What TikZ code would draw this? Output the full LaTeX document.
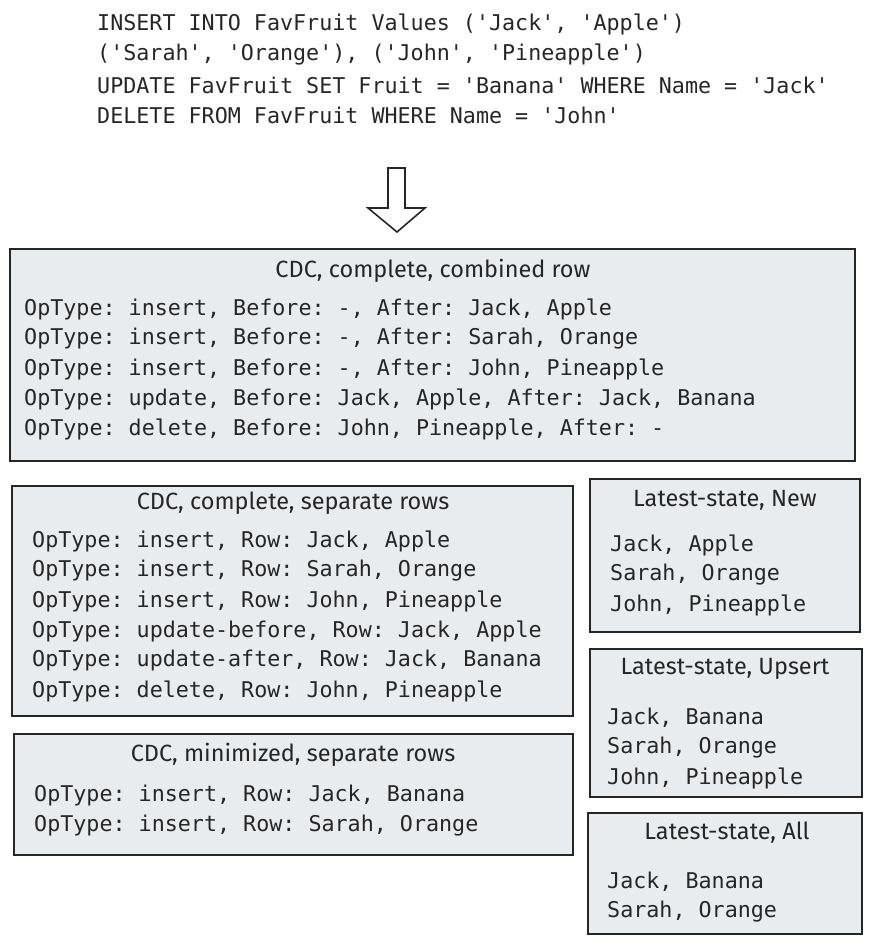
\documentclass[tikz,border=0pt]{standalone}
\usepackage{fontspec}
\setmonofont{DejaVu Sans Mono}
\newfontfamily\hand{Fira Sans}
\definecolor{boxfill}{HTML}{E9ECEF}
\begin{document}
\begin{tikzpicture}[x=1pt,y=-1pt,
  boxst/.style={draw=black!85,line width=2.4pt,fill=boxfill},
  code/.style={anchor=west,inner sep=0pt,font=\fontsize{21.7}{21.7}\ttfamily,text=black!85},
  head/.style={inner sep=0pt,font=\fontsize{23.5}{23.5}\hand,text=black!85}]
\useasboundingbox (0,0) rectangle (875,944);
\node[code] (t1) at (97,24) {INSERT INTO FavFruit Values ('Jack', 'Apple')};
\node[code] (t2) at (97,55) {('Sarah', 'Orange'), ('John', 'Pineapple')};
\node[code] (t4) at (97,85) {UPDATE FavFruit SET Fruit = 'Banana' WHERE Name = 'Jack'};
\node[code] (t5) at (97,115) {DELETE FROM FavFruit WHERE Name = 'John'};
\draw[line width=1.6pt,black!85,fill=white] (388,168) -- (405,168) -- (405,208) -- (425,208) -- (397,232) -- (368,208) -- (388,208) -- cycle;
% boxes
\draw[boxst] (10,249) rectangle (855,461);
\draw[boxst] (12,486) rectangle (573,716);
\draw[boxst] (590,479) rectangle (860,632);
\draw[boxst] (590,649) rectangle (862,797);
\draw[boxst] (14,734) rectangle (573,855);
\draw[boxst] (588,813) rectangle (862,934);
% box1
\node[head] (h1) at (433,271) {CDC, complete, combined row};
\node[code] (a1) at (24,309) {OpType: insert, Before: -, After: Jack, Apple};
\node[code] (a2) at (24,339) {OpType: insert, Before: -, After: Sarah, Orange};
\node[code] (a3) at (24,369) {OpType: insert, Before: -, After: John, Pineapple};
\node[code] (a4) at (24,399) {OpType: update, Before: Jack, Apple, After: Jack, Banana};
\node[code] (a5) at (24,429) {OpType: delete, Before: John, Pineapple, After: -};
% box2
\node[head] (h2) at (293,503) {CDC, complete, separate rows};
\node[code] (b1) at (32,541) {OpType: insert, Row: Jack, Apple};
\node[code] (b2) at (32,571) {OpType: insert, Row: Sarah, Orange};
\node[code] (b3) at (32,601) {OpType: insert, Row: John, Pineapple};
\node[code] (b4) at (32,631) {OpType: update-before, Row: Jack, Apple};
\node[code] (b5) at (32,661) {OpType: update-after, Row: Jack, Banana};
\node[code] (b6) at (32,691) {OpType: delete, Row: John, Pineapple};
% box5
\node[head] (h5) at (293,755) {CDC, minimized, separate rows};
\node[code] (c1) at (34,796) {OpType: insert, Row: Jack, Banana};
\node[code] (c2) at (34,826) {OpType: insert, Row: Sarah, Orange};
% box3
\node[head] (h3) at (725,500) {Latest-state, New};
\node[code] (d1) at (610,545) {Jack, Apple};
\node[code] (d2) at (610,575) {Sarah, Orange};
\node[code] (d3) at (610,605) {John, Pineapple};
% box4
\node[head] (h4) at (725,669) {Latest-state, Upsert};
\node[code] (e1) at (607,718) {Jack, Banana};
\node[code] (e2) at (607,748) {Sarah, Orange};
\node[code] (e3) at (607,778) {John, Pineapple};
% box6
\node[head] (h6) at (727,833) {Latest-state, All};
\node[code] (f1) at (607,882) {Jack, Banana};
\node[code] (f2) at (607,912) {Sarah, Orange};
\end{tikzpicture}
\end{document}
